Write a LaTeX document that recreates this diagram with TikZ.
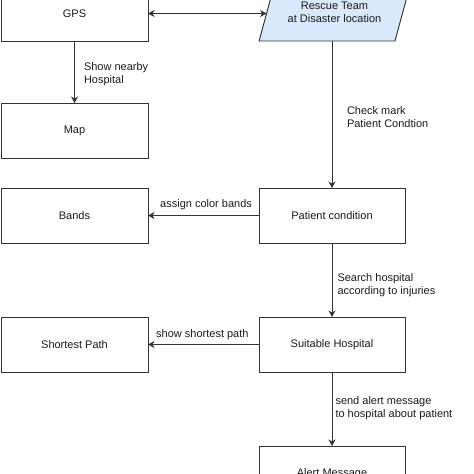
\documentclass[tikz,border=0pt]{standalone}
\usepackage{fontspec}
\setmainfont{Liberation Sans}
\usetikzlibrary{shapes.geometric,arrows.meta}
\definecolor{linec}{HTML}{333333}
\definecolor{txtc}{HTML}{1A1A1A}
\definecolor{fillb}{HTML}{DAE8FC}
\begin{document}
\begin{tikzpicture}[x=1pt,y=-1pt,
  font=\fontsize{11}{13}\selectfont, text=txtc,
  box/.style={draw=linec, line width=0.95pt, rectangle, minimum width=147pt, minimum height=55pt, inner sep=0pt, outer sep=0pt},
  para/.style={draw=linec, line width=0.95pt, fill=fillb, trapezium, trapezium left angle=66, trapezium right angle=114, trapezium stretches=true, minimum width=151pt, minimum height=55pt, inner sep=0pt, outer sep=0pt, align=center},
  arr/.style={draw=linec, line width=0.95pt, -{Stealth[length=6.5pt,width=7pt,inset=2pt]}},
  darr/.style={draw=linec, line width=0.95pt, {Stealth[length=6.5pt,width=7pt,inset=2pt]}-{Stealth[length=6.5pt,width=7pt,inset=2pt]}},
  lbl/.style={inner sep=0pt, outer sep=0pt, align=left, text=txtc}
]
\useasboundingbox (0,0) rectangle (474,474);
\begin{scope}
\clip (0,0) rectangle (474,474);
\node[box] (gps) at (74.5,13.5) {GPS};
\node[box] (map) at (74.5,130.5) {Map};
\node[box] (bands) at (74.5,215.5) {Bands};
\node[box] (short) at (74.5,344.5) {Shortest Path};
\node[para] (rescue) at (334.5,13.5) {\raisebox{-1.5pt}{\begin{tabular}{@{}c@{}}Rescue Team\\at Disaster location\end{tabular}}};
\node[box, minimum width=146pt] (patient) at (332,215.5) {Patient condition};
\node[box, minimum width=146pt] (suit) at (332,344.5) {Suitable Hospital};
\node[box, minimum width=146pt] (alert) at (332,473.5) {Alert Message};

\draw[darr] (gps) -- (rescue);
\draw[arr] (gps) -- node[lbl, pos=0.54, anchor=west, xshift=9.5pt] (l1) {Show nearby\\Hospital} (map);
\draw[arr] (rescue.south -| patient.north) -- node[lbl, pos=0.52, anchor=west, xshift=15pt] (l2) {Check mark\\Patient Condtion} (patient.north);
\draw[arr] (patient) -- node[lbl, pos=0.477, anchor=center, yshift=11pt] (l3) {assign color bands} (bands);
\draw[arr] (patient) -- node[lbl, pos=0.574, anchor=west, xshift=5.5pt] (l4) {Search hospital\\according to injuries} (suit);
\draw[arr] (suit) -- node[lbl, pos=0.51, anchor=center, yshift=9.5pt] (l5) {show shortest path} (short);
\draw[arr] (suit) -- node[lbl, pos=0.49, anchor=west, xshift=3.5pt] (l6) {send alert message\\to hospital about patient} (alert);
\end{scope}
\end{tikzpicture}
\end{document}
